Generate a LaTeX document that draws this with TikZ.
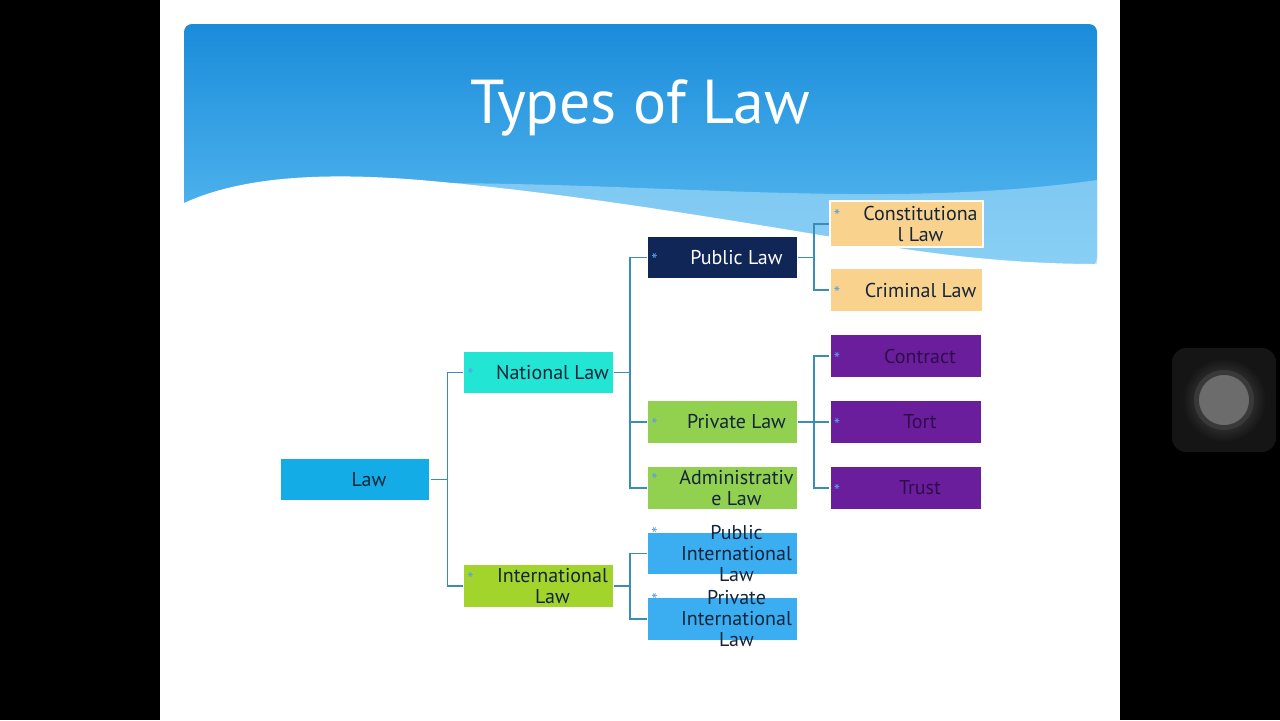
\documentclass[tikz,border=0pt]{standalone}
\usepackage{fontspec}
\setmainfont{PT Sans}

\definecolor{hdrtop}{HTML}{1A8CDA}
\definecolor{hdrbot}{HTML}{5DBDF2}
\definecolor{bandblue}{HTML}{A6DCF8}
\definecolor{inkdark}{HTML}{14243A}
\definecolor{inkpurple}{HTML}{2E0D4A}
\definecolor{linkteal}{HTML}{3A8DB5}
\definecolor{starblue}{HTML}{5A9EEA}
\definecolor{lawblue}{HTML}{14ACE6}
\definecolor{natcyan}{HTML}{22E6D3}
\definecolor{intgreen}{HTML}{A2D42C}
\definecolor{pubnavy}{HTML}{0F2656}
\definecolor{privgreen}{HTML}{92D050}
\definecolor{pilblue}{HTML}{3AAEF0}
\definecolor{pubtan}{HTML}{F9D38D}
\definecolor{privpurple}{HTML}{6A1E9C}
\definecolor{phonegray}{HTML}{151515}

\begin{document}
\begin{tikzpicture}[x=0.5pt, y=-0.5pt,
  box/.style={rectangle, draw=white, line width=0.6pt, minimum width=75pt,
    minimum height=21.5pt, inner sep=0pt},
  boxtext/.style={xshift=7pt, align=center, text=inkdark,
    font=\fontsize{10}{10.5}\selectfont},
  conn/.style={draw=linkteal, line width=0.8pt},
  starlbl/.style={text=starblue, inner sep=0pt, yshift=-1.5pt, font=\fontsize{9}{9}\selectfont},
  bulletstar/.style={label={[starlbl, anchor=west, xshift=2pt, yshift=#1]west:*}},
  bulletstar/.default=0pt]
  % slide and screen
  \fill[black] (0,0) rectangle (1280,720);
  \fill[white] (160,0) rectangle (1120,720);
  % header with wave
  \shade[top color=hdrtop, bottom color=hdrbot, rounded corners=4pt]
    (184,24) rectangle (1097,266);
  \fill[bandblue, opacity=0.6] (300,186) .. controls (600,172) and (850,215) .. (1097,180)
    -- (1097,266) -- (300,266) -- cycle;
  \fill[white] (184,203) .. controls (230,182) and (300,170) .. (420,180)
    .. controls (560,192) and (700,215) .. (850,240)
    .. controls (950,258) and (1030,264) .. (1097,264)
    -- (1097,280) -- (184,280) -- cycle;
  \node[text=white, font=\fontsize{31}{31}\selectfont] (title) at (640,108) {Types of Law};
  % phone button
  \fill[phonegray, rounded corners=7pt] (1172,348) rectangle (1276,452);
  \shade[inner color=gray!70!black, outer color=phonegray] (1224,400) circle (21pt);
  \fill[gray!45!black] (1224,400) circle (15pt);
  \fill[gray!85!black] (1224,400) circle (12.5pt);

  % level 1
  \node[box, fill=lawblue, label={[boxtext]center:Law}] (law) at (355,479.5) {};
  % level 2
  \node[box, fill=natcyan, bulletstar, label={[boxtext]center:National Law}] (natl) at (538.5,372.5) {};
  \node[box, fill=intgreen, bulletstar=5pt, label={[boxtext]center:International\\Law}] (intl) at (538.5,586) {};
  % level 3
  \node[box, fill=pubnavy, bulletstar, label={[boxtext, text=white]center:Public Law}] (publ) at (722.5,257.5) {};
  \node[box, fill=privgreen, bulletstar, label={[boxtext]center:Private Law}] (priv) at (722.5,422) {};
  \node[box, fill=privgreen, bulletstar=5.5pt, label={[boxtext]center:Administrativ\\e Law}] (admin) at (722.5,488) {};
  \node[box, fill=pilblue, bulletstar=11pt, label={[boxtext]center:Public\\International\\Law}] (pil) at (722.5,553.5) {};
  \node[box, fill=pilblue, bulletstar=11pt, label={[boxtext]center:Private\\International\\Law}] (pril) at (722.5,619) {};
  % level 4
  \node[box, fill=pubtan, minimum width=76.5pt, minimum height=23pt, bulletstar=5.5pt,
    label={[boxtext]center:Constitutiona\\l Law}] (const) at (906.5,224) {};
  \node[box, fill=pubtan, minimum width=76.5pt, bulletstar, label={[boxtext]center:Criminal Law}] (crim) at (906.5,290) {};
  \node[box, fill=privpurple, minimum width=76pt, bulletstar, label={[boxtext, text=inkpurple]center:Contract}] (contract) at (906,356) {};
  \node[box, fill=privpurple, minimum width=76pt, bulletstar, label={[boxtext, text=inkpurple]center:Tort}] (tort) at (906,422) {};
  \node[box, fill=privpurple, minimum width=76pt, bulletstar, label={[boxtext, text=inkpurple]center:Trust}] (trust) at (906,488) {};

  % connectors
  \foreach \child in {natl,intl}
    \draw[conn] (law.east) -- ++(17,0) |- (\child.west);
  \foreach \child in {publ,priv,admin}
    \draw[conn] (natl.east) -- ++(16,0) |- (\child.west);
  \foreach \child in {pil,pril}
    \draw[conn] (intl.east) -- ++(16,0) |- (\child.west);
  \foreach \child in {const,crim}
    \draw[conn] (publ.east) -- ++(16,0) |- (\child.west);
  \foreach \child in {contract,tort,trust}
    \draw[conn] (priv.east) -- ++(16,0) |- (\child.west);
\end{tikzpicture}
\end{document}
